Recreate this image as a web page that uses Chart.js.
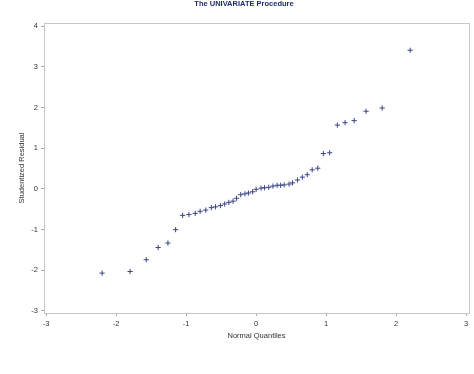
<!DOCTYPE html>
<html>
<head>
<meta charset="utf-8">
<script src="https://cdn.jsdelivr.net/npm/chart.js@4/dist/chart.umd.min.js"></script>
<style>
  html, body { margin: 0; padding: 0; background: #ffffff; }
  #wrap { width: 474px; height: 374px; }
</style>
</head>
<body>
<div id="wrap"><canvas id="c" width="474" height="374"></canvas></div>
<script>
// Normal quantiles (x)
const normalQuantiles = [
  -2.20, -1.80, -1.57, -1.40, -1.26, -1.15, -1.05, -0.96, -0.87, -0.80,
  -0.72, -0.64, -0.58, -0.51, -0.45, -0.39, -0.33, -0.28, -0.22, -0.16,
  -0.11, -0.05, 0.00, 0.07, 0.12, 0.18, 0.24, 0.30, 0.35, 0.40,
  0.47, 0.52, 0.59, 0.66, 0.73, 0.80, 0.88, 0.96, 1.05, 1.16,
  1.27, 1.40, 1.57, 1.80, 2.20
];
// Studentized residuals (y)
const studentizedResiduals = [
  -2.07, -2.03, -1.74, -1.44, -1.33, -1.00, -0.65, -0.63, -0.60, -0.55,
  -0.52, -0.46, -0.44, -0.41, -0.37, -0.33, -0.30, -0.23, -0.14, -0.12,
  -0.10, -0.07, -0.01, 0.02, 0.03, 0.04, 0.07, 0.09, 0.09, 0.10,
  0.12, 0.15, 0.22, 0.29, 0.35, 0.47, 0.51, 0.87, 0.89, 1.57,
  1.63, 1.68, 1.91, 1.99, 3.41
];
const xTicks = [-3, -2, -1, 0, 1, 2, 3];
const yTicks = [-3, -2, -1, 0, 1, 2, 3, 4];
const chartTitle = "The UNIVARIATE Procedure";
const xTitle = "Normal Quantiles";
const yTitle = "Studentized Residual";

const points = normalQuantiles.map((x, i) => ({ x: x, y: studentizedResiduals[i] }));
const FONT = "'Liberation Sans', Arial, sans-serif";

const framePlugin = {
  id: 'frame',
  beforeDatasetsDraw(chart) {
    const a = chart.chartArea, ctx = chart.ctx;
    ctx.save();
    ctx.strokeStyle = '#c8c8c8';
    ctx.lineWidth = 1;
    ctx.strokeRect(Math.round(a.left) + 0.5, Math.round(a.top) + 0.5,
                   Math.round(a.right - a.left), Math.round(a.bottom - a.top));
    ctx.restore();
  },
  afterDraw(chart) {
    const ctx = chart.ctx;
    ctx.save();
    ctx.font = "bold 7.5px " + FONT;
    ctx.fillStyle = '#1c2a6e';
    ctx.textAlign = 'center';
    ctx.textBaseline = 'alphabetic';
    ctx.fillText(chartTitle, 244, 6);
    ctx.restore();
  }
};

new Chart(document.getElementById('c'), {
  type: 'scatter',
  data: {
    datasets: [{
      data: points,
      pointStyle: 'cross',
      pointRadius: 2.6,
      pointHoverRadius: 2.6,
      borderColor: '#3a4584',
      backgroundColor: '#3a4584',
      borderWidth: 1
    }]
  },
  options: {
    responsive: false,
    animation: false,
    events: [],
    layout: { padding: { top: 23, right: 5, left: 0, bottom: 0 } },
    plugins: { legend: { display: false }, tooltip: { enabled: false }, title: { display: false } },
    scales: {
      x: {
        type: 'linear',
        min: -3.03,
        max: 3.04,
        afterFit(s) { s.height = 61; },
        afterBuildTicks(s) { s.ticks = xTicks.map(v => ({ value: v })); },
        grid: { drawOnChartArea: false, drawTicks: true, tickLength: 3, color: '#a8a8a8' },
        border: { color: '#a8a8a8' },
        ticks: { color: '#333333', font: { family: FONT, size: 7.5 }, padding: 3, maxRotation: 0 },
        title: { display: true, text: xTitle, color: '#333333', font: { family: FONT, size: 7.5 },
                 padding: { top: 0, bottom: 34 } }
      },
      y: {
        type: 'linear',
        min: -3.05,
        max: 4.08,
        afterFit(s) { s.width = 44; },
        afterBuildTicks(s) { s.ticks = yTicks.map(v => ({ value: v })); },
        grid: { drawOnChartArea: false, drawTicks: true, tickLength: 3, color: '#a8a8a8' },
        border: { color: '#a8a8a8' },
        ticks: { color: '#333333', font: { family: FONT, size: 7.5 }, padding: 3 },
        title: { display: true, text: yTitle, color: '#333333', font: { family: FONT, size: 7.5 },
                 padding: { top: 17, bottom: 0 } }
      }
    }
  },
  plugins: [framePlugin]
});
</script>
</body>
</html>
